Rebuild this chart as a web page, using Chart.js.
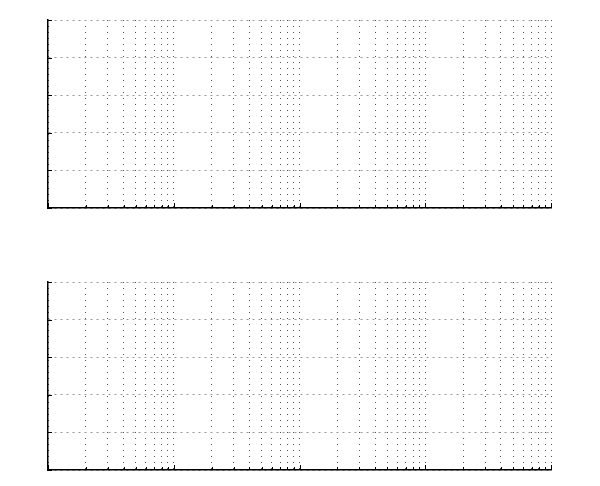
<!DOCTYPE html>
<html>
<head>
<meta charset="utf-8">
<script src="https://cdn.jsdelivr.net/npm/chart.js@4/dist/chart.umd.min.js"></script>
<style>
  html, body { margin: 0; padding: 0; background: #fff; }
  .box { position: absolute; left: 0; width: 600px; height: 243px; }
  #topBox { top: 0; }
  #botBox { top: 243px; }
</style>
</head>
<body>
<div class="box" id="topBox"><canvas id="magChart"></canvas></div>
<div class="box" id="botBox"><canvas id="phaseChart"></canvas></div>
<script>
// frequency axis: 4 decades, grid on every 1..9 multiple
const decades = [1, 10, 100, 1000, 10000];
const multipliers = [1, 2, 3, 4, 5, 6, 7, 8, 9];
// y axis ticks (labels hidden in the reference)
const yTicks = [0, 1, 2, 3, 4, 5];
// both panels are empty in the reference
const magnitude = [];
const phase = [];

var freqTicks = [];
decades.forEach(function (d, i) {
  if (i == decades.length - 1) { freqTicks.push(d); return; }
  multipliers.forEach(function (m) { freqTicks.push(d * m); });
});

// MATLAB style ticks, pointing into the axes
const innerTicks = {
  id: 'innerTicks',
  afterDraw(chart) {
    const {ctx, chartArea: {left, bottom}} = chart;
    const xs = chart.scales.x, ys = chart.scales.y;
    ctx.save();
    ctx.strokeStyle = '#000';
    ctx.lineWidth = 1;
    ctx.beginPath();
    ys.ticks.forEach(function (t) {
      var y = Math.round(ys.getPixelForValue(t.value)) + 0.5;
      ctx.moveTo(left, y);
      ctx.lineTo(left + 4, y);
    });
    xs.ticks.forEach(function (t) {
      var x = Math.round(xs.getPixelForValue(t.value)) + 0.5;
      var len = decades.indexOf(t.value) >= 0 ? 5 : 3;
      ctx.moveTo(x, bottom);
      ctx.lineTo(x, bottom - len);
    });
    ctx.stroke();
    ctx.restore();
  }
};

function makeConfig(values, pad) {
  return {
    type: 'line',
    data: {
      datasets: [{
        data: values,
        borderColor: '#0000ff',
        borderWidth: 1,
        pointRadius: 0
      }]
    },
    plugins: [innerTicks],
    options: {
      responsive: true,
      maintainAspectRatio: false,
      animation: false,
      events: [],
      layout: { padding: pad },
      plugins: {
        legend: { display: false },
        tooltip: { enabled: false }
      },
      scales: {
        x: {
          type: 'logarithmic',
          min: decades[0],
          max: decades[decades.length - 1],
          afterBuildTicks: function (scale) {
            scale.ticks = freqTicks.map(function (v) { return { value: v }; });
          },
          afterFit: function (scale) { scale.height = 0; },
          ticks: { display: false, autoSkip: false },
          grid: { color: '#555', lineWidth: 1, drawTicks: false },
          border: { display: true, color: '#000', width: 1.5, dash: [1, 5] }
        },
        y: {
          type: 'linear',
          min: yTicks[0],
          max: yTicks[yTicks.length - 1],
          afterBuildTicks: function (scale) {
            scale.ticks = yTicks.map(function (v) { return { value: v }; });
          },
          afterFit: function (scale) { scale.width = 0; },
          ticks: { display: false },
          grid: { color: '#999', lineWidth: 1, drawTicks: false },
          border: { display: true, color: '#000', width: 1.5, dash: [2, 4] }
        }
      }
    }
  };
}

new Chart(document.getElementById('magChart'),
  makeConfig(magnitude, { left: 48, right: 49, top: 20, bottom: 35 }));
new Chart(document.getElementById('phaseChart'),
  makeConfig(phase, { left: 48, right: 49, top: 39, bottom: 16 }));
</script>
</body>
</html>
